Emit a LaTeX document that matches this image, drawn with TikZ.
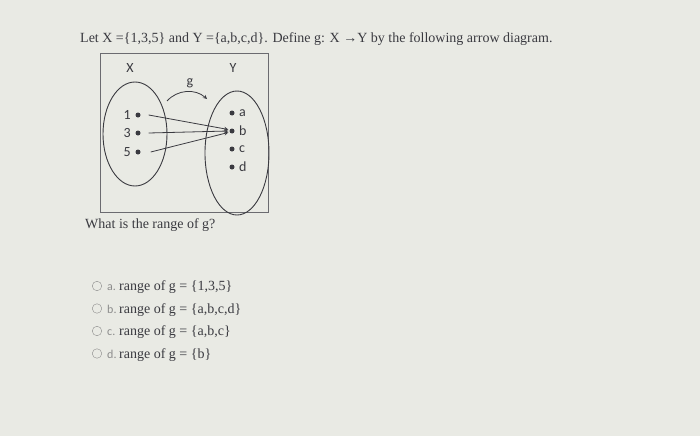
\documentclass[tikz,border=0pt]{standalone}
\usepackage{fontspec}
\setmainfont{Liberation Serif}
\newfontfamily\diagfont{Carlito}
\usetikzlibrary{shapes.geometric,arrows}
\definecolor{screen}{RGB}{233,234,228}
\definecolor{ink}{RGB}{58,58,64}
\definecolor{pale}{RGB}{140,140,140}
\tikzset{%
  setnode/.style  = {shape=ellipse, draw=ink, line width=0.9pt, inner sep=0pt},%
  elem/.style     = {circle, fill=ink, inner sep=0pt, minimum size=5pt},%
  lbl/.style      = {font=\diagfont\fontsize{14}{16}\selectfont, text=ink, inner sep=0pt},%
  maparrow/.style = {->, >=stealth, ink, line width=0.8pt},%
  radio/.style    = {circle, draw=pale, inner sep=0pt, minimum size=9.5pt},%
  choice/.style   = {anchor=base west, inner sep=0pt, text=ink,%
                     font=\fontsize{14}{16}\selectfont}%
}
\begin{document}
\begin{tikzpicture}[x=1pt,y=-1pt]
	\fill [screen] (0,0) rectangle (700,436);
	\node [choice, font=\fontsize{14}{16}\selectfont] (title) at (80,43)
		{Let X =\{1,3,5\} and Y =\{a,b,c,d\}. Define g: X →Y by the following arrow diagram.};
	% arrow diagram
	\draw [ink!75] (100,53) rectangle (268,212);
	\node [lbl] (nameX) at (130,68) {X};
	\node [lbl] (nameY) at (233,68) {Y};
	\node [setnode, minimum width=64pt, minimum height=104pt] (setX) at (135,134) {};
	\node [setnode, minimum width=64pt, minimum height=124pt] (setY) at (237,153) {};
	\foreach \n/\y in {1/115,3/133,5/152}{
		\node [elem] (x\n) at (138,\y) {};
		\node [lbl, anchor=east] (lx\n) at (131,\y) {\n};
	}
	\foreach \n/\y in {a/113,b/131,c/149,d/167}{
		\node [elem] (y\n) at (232,\y) {};
		\node [lbl, anchor=west] (ly\n) at (239,\y) {\n};
	}
	\draw [maparrow] ([xshift=8pt]x1.east) -- ([yshift=1.5pt,xshift=-1pt]yb.west);
	\draw [maparrow] ([xshift=8pt]x3.east) -- ([xshift=-1pt]yb.west);
	\draw [maparrow] ([xshift=10pt]x5.east) -- ([yshift=-1.5pt,xshift=-1pt]yb.west);
	\coordinate (gs) at (167,101);
	\coordinate (ge) at (207,99);
	\draw [maparrow] (gs) to [bend left=45] (ge);
	\node [lbl] (g) at (190,83) {g};
	% question and choices
	\node [choice] (q) at (85,228) {What is the range of g?};
	\foreach \k/\y/\s in {a/290.5/{1,3,5},b/313/{a,b,c,d},c/335.5/{a,b,c},d/358/{b}}{
		\node [radio] (r\k) at (97,\y-4.5) {};
		\node [choice, text=pale, font=\diagfont\fontsize{12}{14}\selectfont] (k\k) at (107,\y) {\k.};
		\node [choice] (t\k) at (119,\y) {range of g = \{\s\}};
	}
\end{tikzpicture}
\end{document}
